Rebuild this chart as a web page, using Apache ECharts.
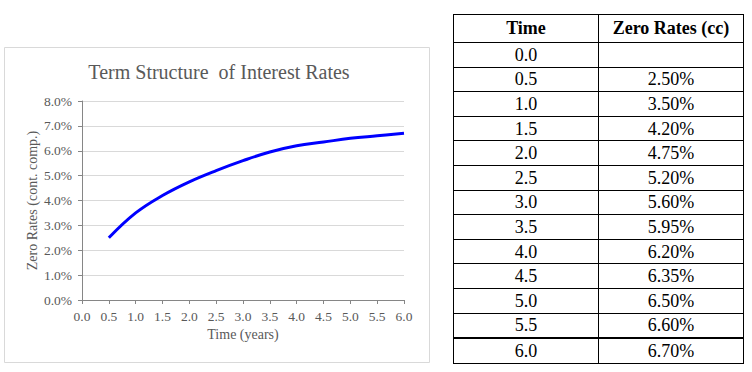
<!DOCTYPE html>
<html>
<head>
<meta charset="utf-8">
<script src="https://cdn.jsdelivr.net/npm/echarts@6/dist/echarts.min.js"></script>
<style>
  html, body { margin: 0; padding: 0; background: #fff; }
  #wrap { position: relative; width: 752px; height: 372px; overflow: hidden; }
  #chart { position: absolute; left: 0; top: 0; width: 752px; height: 372px; }
  #tbl { position: absolute; left: 453px; top: 14px; border-collapse: collapse;
         font-family: "Liberation Serif", "Times New Roman", serif; font-size: 18px; color: #000; }
  #tbl td, #tbl th { border: 1px solid #000; padding: 0; text-align: center; width: 144px; }
  #tbl th { height: 27px; font-weight: bold; }
  #tbl td { height: 23.6px; line-height: 20px; }
  #tbl tr.last td { border-top: 2px solid #000; }
</style>
</head>
<body>
<div id="wrap">
  <div id="chart"></div>
  <table id="tbl"></table>
</div>
<script>
// ---- data ----
var times = [0.0, 0.5, 1.0, 1.5, 2.0, 2.5, 3.0, 3.5, 4.0, 4.5, 5.0, 5.5, 6.0];
var zeroRates = [null, 2.50, 3.50, 4.20, 4.75, 5.20, 5.60, 5.95, 6.20, 6.35, 6.50, 6.60, 6.70]; // percent
var tableHeaders = ["Time", "Zero Rates (cc)"];
var chartTitle = "Term Structure  of Interest Rates";
var xAxisName = "Time (years)";
var yAxisName = "Zero Rates (cont. comp.)";

// ---- table ----
var tbl = document.getElementById('tbl');
var html = '<tr><th>' + tableHeaders[0] + '</th><th>' + tableHeaders[1] + '</th></tr>';
for (var i = 0; i < times.length; i++) {
  var cls = (i === times.length - 1) ? ' class="last"' : '';
  html += '<tr' + cls + '><td>' + times[i].toFixed(1) + '</td><td>' +
          (zeroRates[i] == null ? '' : zeroRates[i].toFixed(2) + '%') + '</td></tr>';
}
tbl.innerHTML = html;

// ---- chart ----
var seriesData = [];
for (var j = 0; j < times.length; j++) {
  if (zeroRates[j] != null) seriesData.push([times[j], zeroRates[j]]);
}
var serif = '"Liberation Serif", "Times New Roman", serif';
var chart = echarts.init(document.getElementById('chart'), null, { renderer: 'svg' });
chart.setOption({
  animation: false,
  textStyle: { fontFamily: serif },
  graphic: [{
    type: 'rect', left: 4, top: 47,
    shape: { width: 425, height: 315 },
    style: { fill: '#fff', stroke: '#d9d9d9', lineWidth: 1 }, z: -10
  }],
  title: {
    text: chartTitle, left: 214, top: 57, textAlign: 'center',
    textStyle: { fontFamily: serif, fontSize: 20, fontWeight: 'normal', color: '#595959' }
  },
  grid: { left: 82, right: 348, top: 101, bottom: 72 },
  xAxis: {
    type: 'value', min: 0, max: 6, interval: 0.5,
    name: xAxisName, nameLocation: 'middle', nameGap: 27,
    nameTextStyle: { fontFamily: serif, fontSize: 14, color: '#595959' },
    axisLine: { show: true, lineStyle: { color: '#868686', width: 1 } },
    axisTick: { show: true, length: 4, lineStyle: { color: '#868686' } },
    axisLabel: { fontFamily: serif, fontSize: 13.5, color: '#595959', margin: 9,
                 formatter: function (v) { return v.toFixed(1); } },
    splitLine: { show: false }
  },
  yAxis: {
    type: 'value', min: 0, max: 8, interval: 1,
    name: yAxisName, nameLocation: 'middle', nameGap: 43,
    nameTextStyle: { fontFamily: serif, fontSize: 14, color: '#595959' },
    axisLine: { show: true, lineStyle: { color: '#868686', width: 1 } },
    axisTick: { show: true, length: 4, lineStyle: { color: '#868686' } },
    axisLabel: { fontFamily: serif, fontSize: 13.5, color: '#595959', margin: 10,
                 formatter: function (v) { return v.toFixed(1) + '%'; } },
    splitLine: { show: true, lineStyle: { color: '#d9d9d9', width: 1 } }
  },
  series: [{
    type: 'line', data: seriesData, smooth: 0.4, symbol: 'none',
    lineStyle: { color: '#0000ff', width: 3 }
  }]
});
</script>
</body>
</html>
